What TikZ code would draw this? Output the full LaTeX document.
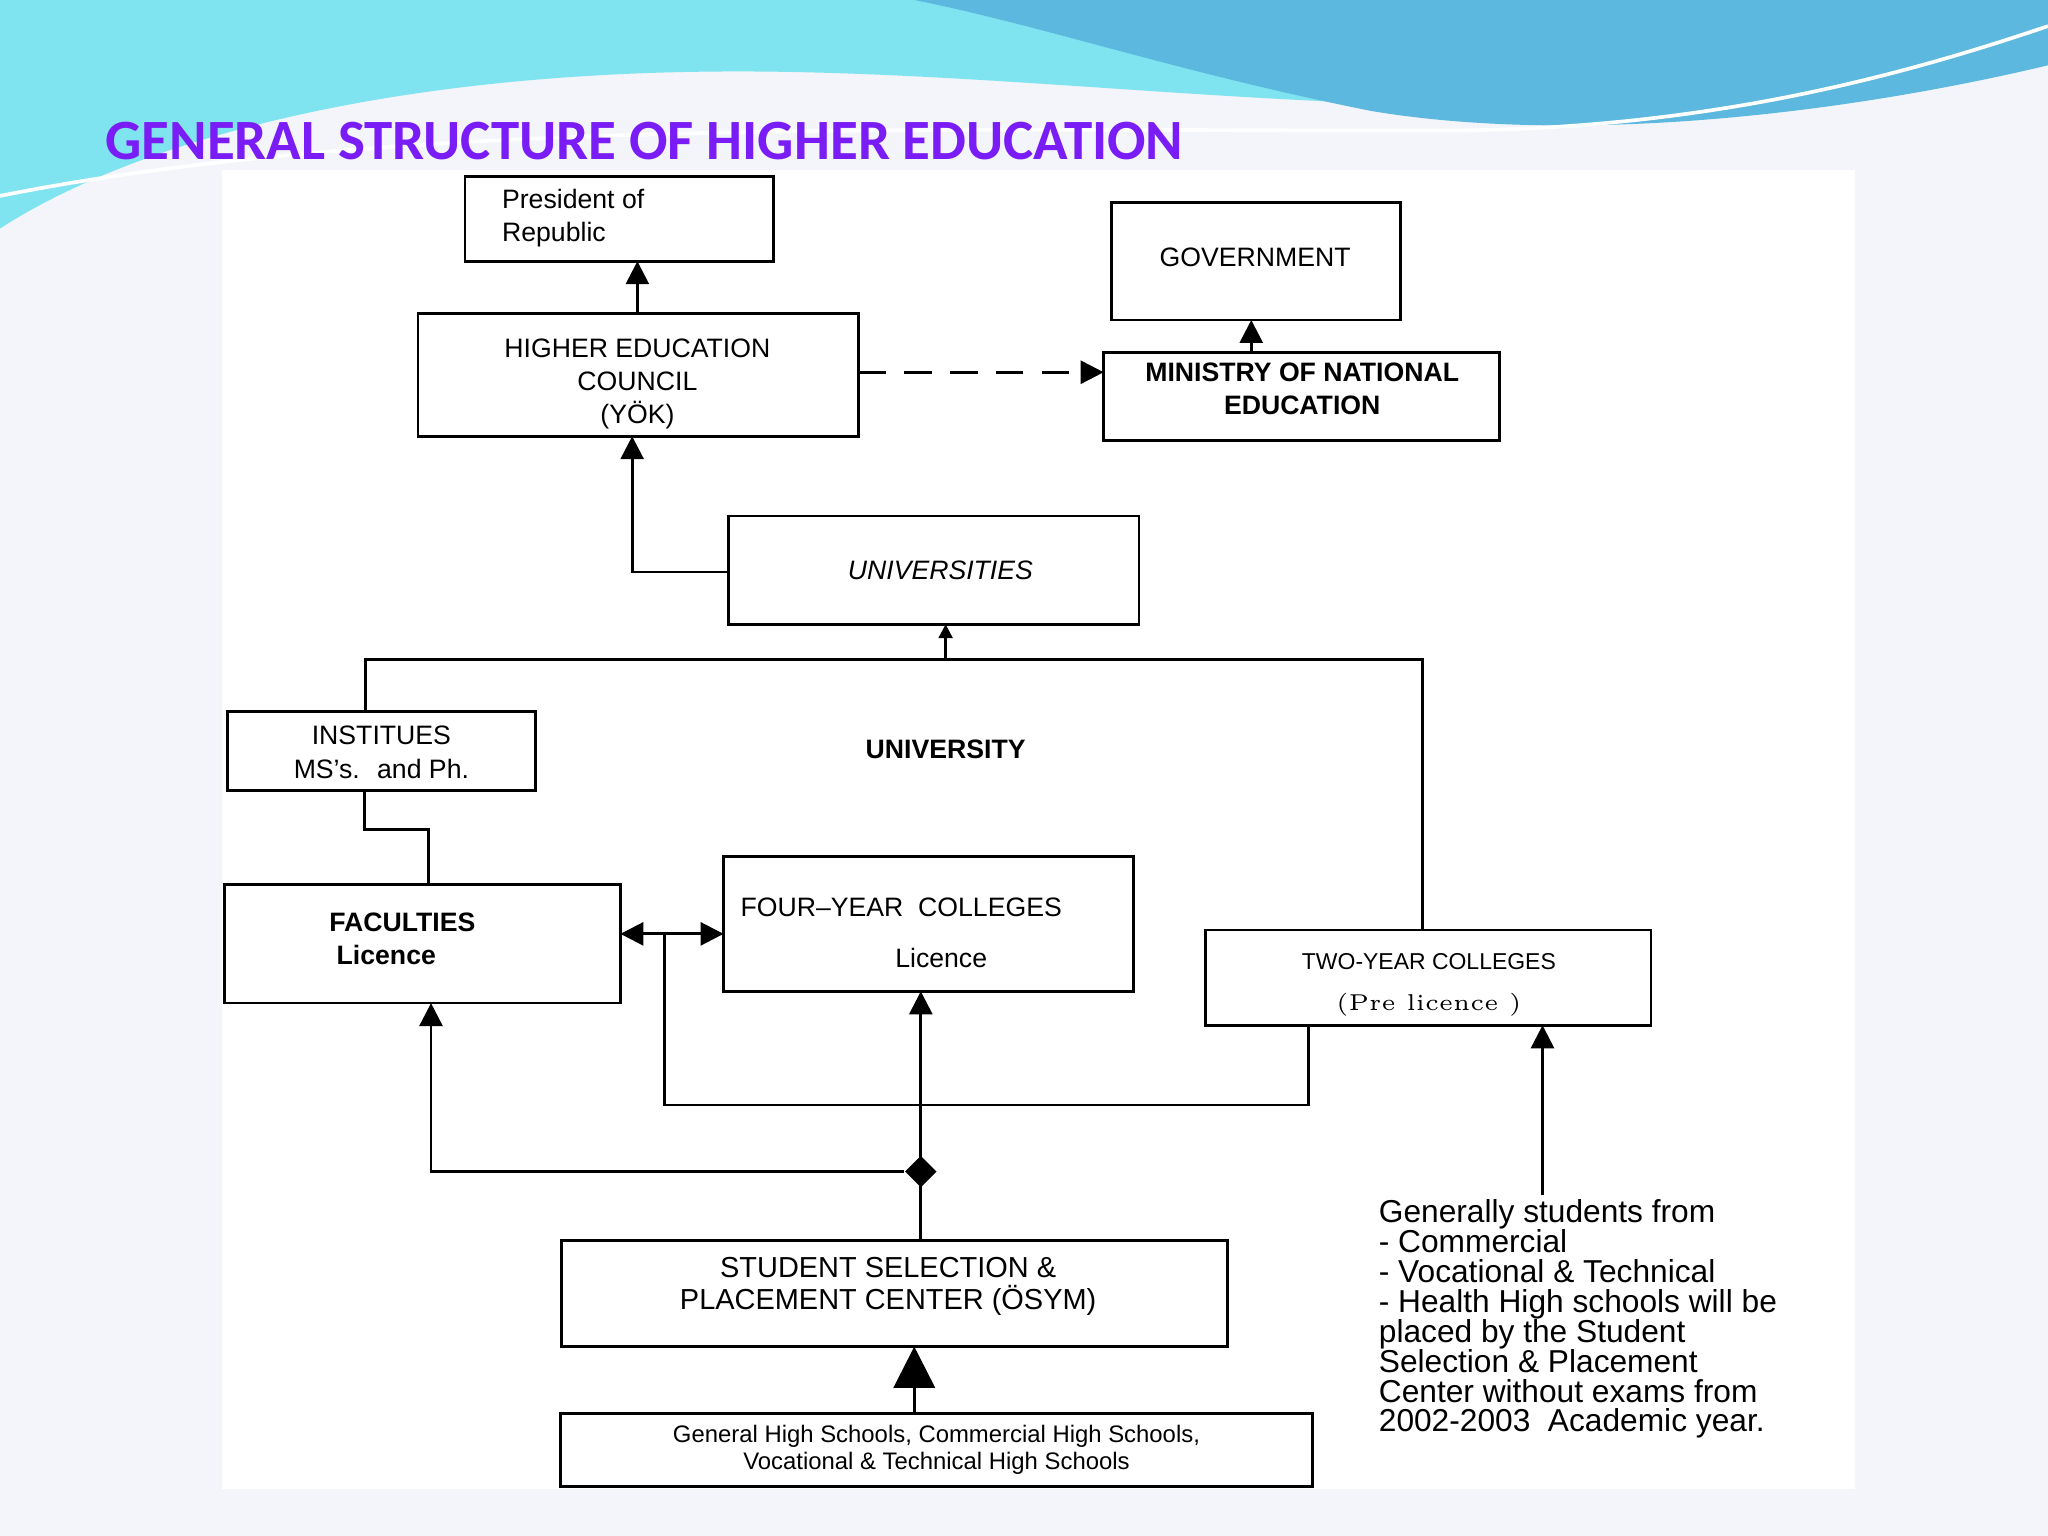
\documentclass[tikz,border=0pt]{standalone}
\usepackage{fontspec}
\setmainfont{Liberation Sans}
\newfontfamily\ttlfont{Carlito}
\usetikzlibrary{arrows.meta,shapes.geometric}
\definecolor{bg}{HTML}{F3F5FA}
\definecolor{wave1}{HTML}{7FE3F0}
\definecolor{wave2}{HTML}{5CB8DE}
\definecolor{ttl}{HTML}{7A1CF5}
\begin{document}
\begin{tikzpicture}[x=0.01cm,y=-0.01cm,
  box/.style={draw,semithick,fill=white,inner sep=0pt},
  t/.style={font=\fontsize{5.8}{7.2}\selectfont,align=center},
  ln/.style={semithick},
  ar/.style={semithick,-{Triangle[length=5pt,width=5pt]}}]
\useasboundingbox (0,0) rectangle (1568,1176);
\fill[bg] (0,0) rectangle (1568,1176);
\fill[wave1] (0,0) -- (1568,0) -- (1568,40) .. controls (1200,120) and (900,60) .. (600,55) .. controls (300,50) and (100,110) .. (0,175) -- cycle;
\fill[wave2] (700,0) -- (1568,0) -- (1568,50) .. controls (1400,90) and (1200,110) .. (1050,85) .. controls (900,55) and (800,20) .. (700,0) -- cycle;
\draw[white,thick] (0,150) .. controls (300,90) and (700,100) .. (1100,100) .. controls (1300,100) and (1450,60) .. (1568,20);
\fill[white] (170,130) rectangle (1420,1140);
\node[anchor=west,inner sep=0pt,text=ttl,font=\ttlfont\bfseries\fontsize{12.4}{14}\selectfont] (title) at (80,108) {GENERAL STRUCTURE OF HIGHER EDUCATION};

\draw[box] (356,135) rectangle (592,200);
\node[t,align=left,anchor=west] (pres) at (372,167) {President of\\Republic};
\draw[box] (851,155) rectangle (1072,245);
\node[t] (gov) at (961,197) {GOVERNMENT};
\draw[box] (320,240) rectangle (657,334);
\node[t] (hec) at (488,294) {HIGHER EDUCATION\\COUNCIL\\(YÖK)};
\draw[box] (845,270) rectangle (1148,337);
\node[t,font=\bfseries\fontsize{5.8}{7.2}\selectfont] (min) at (997,298) {MINISTRY OF NATIONAL\\EDUCATION};
\draw[box] (558,395) rectangle (872,478);
\node[t,font=\itshape\fontsize{5.8}{7.2}\selectfont] (univs) at (720,437) {UNIVERSITIES};
\draw[box] (174,545) rectangle (410,605);
\node[t] (inst) at (292,576) {INSTITUES\\MS’s. \ and Ph.};
\node[t,font=\bfseries\fontsize{5.8}{7.2}\selectfont] (uni) at (724,574) {UNIVERSITY};
\draw[box] (172,677) rectangle (475,768);
\node[t,font=\bfseries\fontsize{5.8}{7.2}\selectfont,align=left] (fac) at (308,719) {FACULTIES\\ \ Licence};
\draw[box] (554,656) rectangle (868,759);
\node[t] (four) at (690,714) {FOUR–YEAR \ COLLEGES\\[4pt]\hspace*{3em}Licence};
\draw[box] (923,712) rectangle (1264,785);
\node[t,font=\fontsize{5}{7}\selectfont] (two) at (1094,754) {TWO-YEAR COLLEGES\\[2pt]{\fontfamily{lmr}\selectfont (Pre licence )}};
\draw[box] (430,950) rectangle (940,1031);
\node[t,font=\fontsize{6.3}{7}\selectfont] (osym) at (680,985) {STUDENT SELECTION \&\\PLACEMENT CENTER (ÖSYM)};
\draw[box] (429,1082) rectangle (1005,1138);
\node[t,font=\fontsize{5.2}{6}\selectfont] (ghs) at (717,1110) {General High Schools, Commercial High Schools,\\Vocational \& Technical High Schools};
\node[anchor=north west,align=left,font=\fontsize{6.9}{6.5}\selectfont,inner sep=0pt] (note) at (1055,918) {Generally students from\\- Commercial\\- Vocational \& Technical\\- Health High schools will be\\placed by the Student\\Selection \& Placement\\Center without exams from\\2002-2003 \ Academic year.};

\coordinate (a1) at (488,240); \coordinate (a2) at (488,200);
\draw[ar] (a1) -- (a2);
\coordinate (b1) at (958,270); \coordinate (b2) at (958,245);
\draw[ar] (b1) -- (b2);
\coordinate (c1) at (657,285); \coordinate (c2) at (845,285);
\draw[ar,dash pattern=on 6pt off 4pt] (c1) -- (c2);
\coordinate (d1) at (558,438); \coordinate (d2) at (484,334);
\draw[ar] (d1) -| (d2);
\coordinate (e1) at (280,545); \coordinate (e2) at (1089,712);
\draw[ln] (e1) -- (280,505) -- (1089,505) -- (e2);
\coordinate (e3) at (724,505); \coordinate (e4) at (724,478);
\draw[semithick,-{Triangle[length=3pt,width=3pt]}] (e3) -- (e4);
\coordinate (f1) at (279,605); \coordinate (f2) at (328,677);
\draw[ln] (f1) -- (279,635) -| (f2);
\coordinate (g1) at (475,715); \coordinate (g2) at (554,715);
\draw[semithick,{Triangle[length=5pt,width=5pt]}-{Triangle[length=5pt,width=5pt]}] (g1) -- (g2);
\coordinate (h1) at (509,715); \coordinate (h2) at (1002,785);
\draw[ln] (h1) -- (509,846) -| (h2);
\coordinate (i1) at (705,950); \coordinate (i2) at (705,759);
\draw[ar] (i1) -- (i2);
\node[diamond,fill=black,inner sep=0pt,minimum size=7pt] (dm) at (705,897) {};
\coordinate (j2) at (330,768);
\draw[ar] (dm) -| (j2);
\coordinate (k1) at (1181,915); \coordinate (k2) at (1181,785);
\draw[ar] (k1) -- (k2);
\coordinate (l1) at (700,1082); \coordinate (l2) at (700,1031);
\draw[semithick,-{Triangle[length=9pt,width=9pt]}] (l1) -- (l2);
\end{tikzpicture}
\end{document}
